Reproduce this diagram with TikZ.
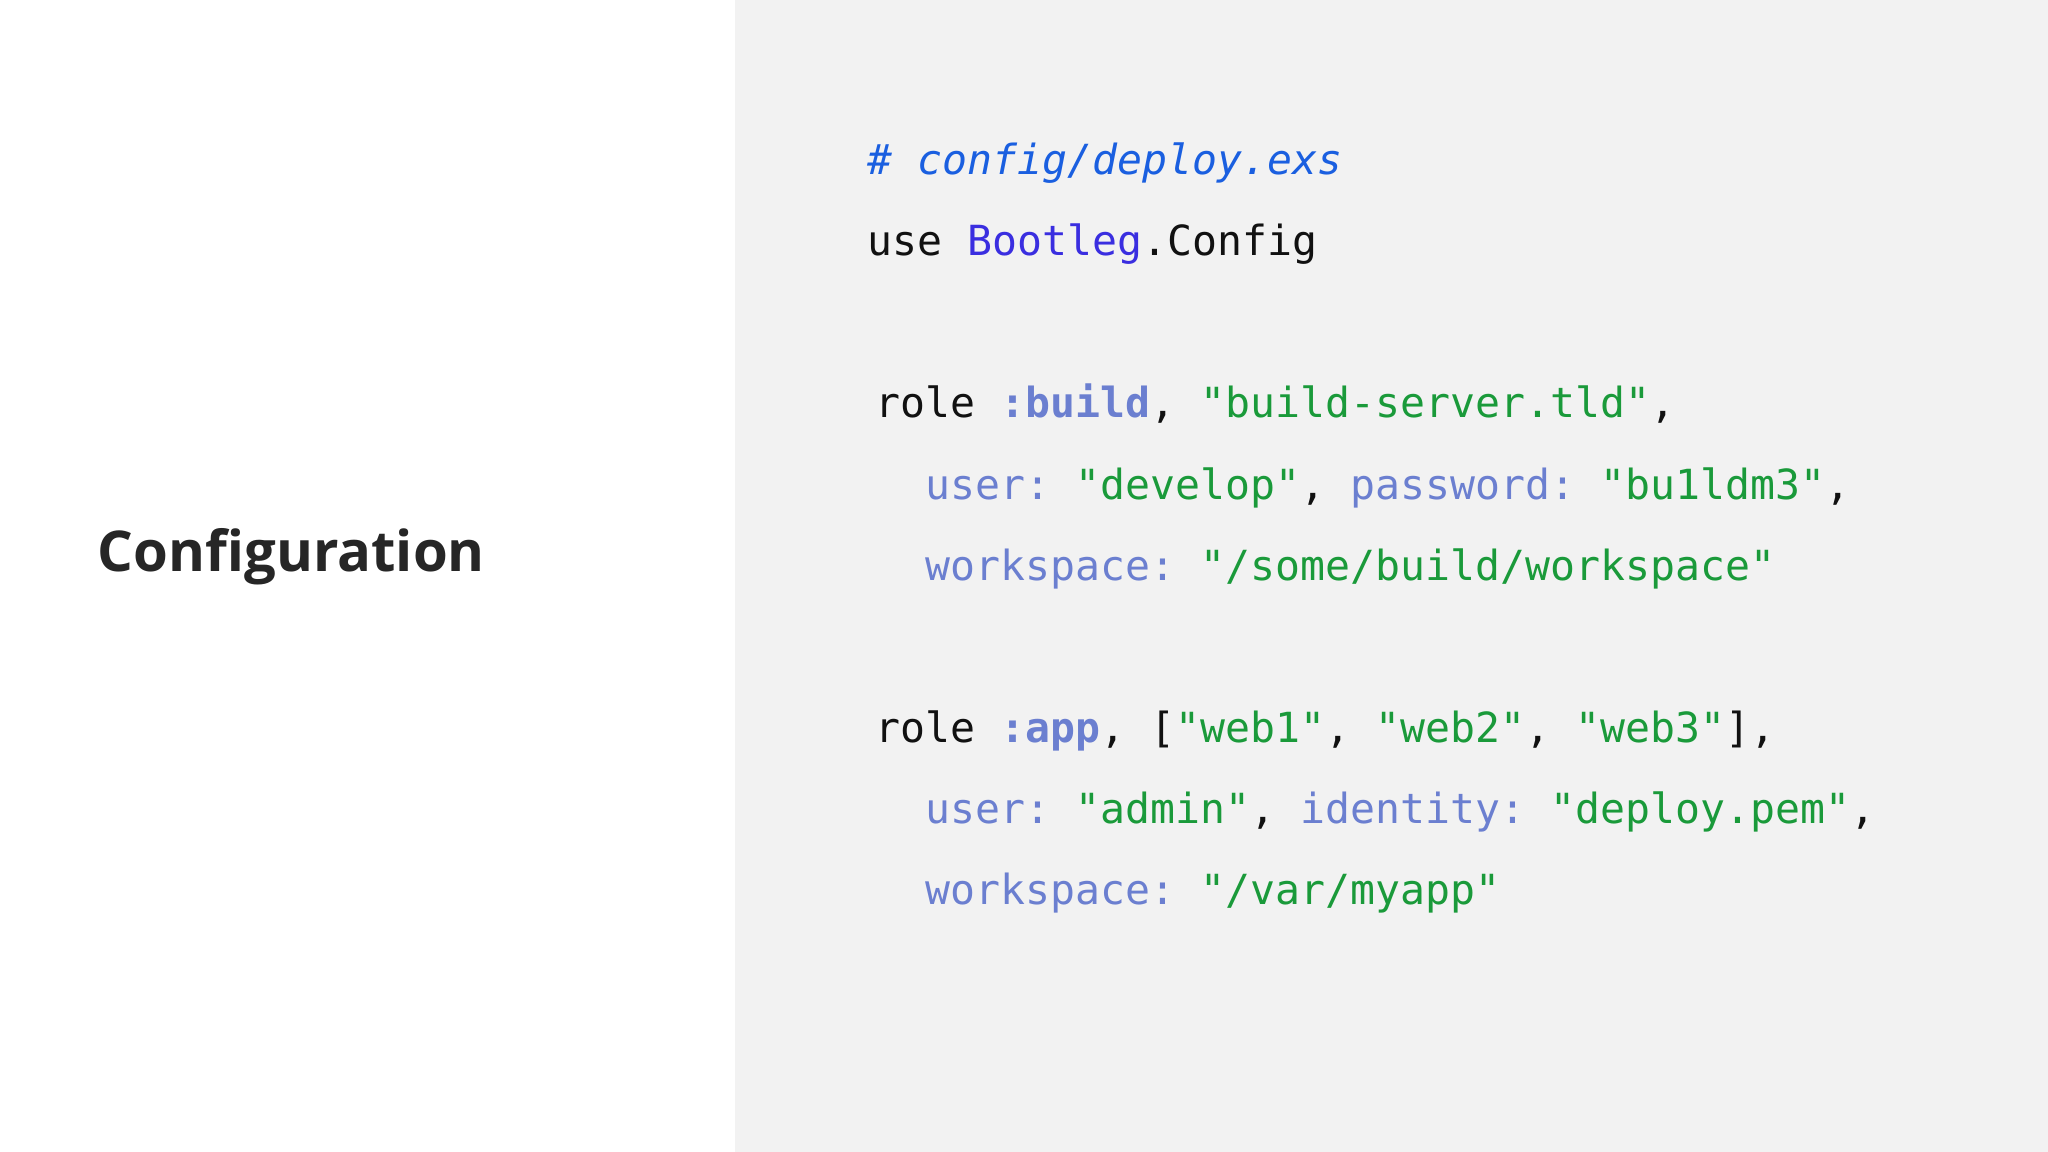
\documentclass[tikz,border=0pt]{standalone}
\usepackage{fontspec}
\setmonofont{DejaVu Sans Mono}
\newfontfamily\titlefont{Open Sans}
\definecolor{cmt}{HTML}{1A5FE0}
\definecolor{mod}{HTML}{3A2EE0}
\definecolor{kw}{HTML}{6B7FD0}
\definecolor{str}{HTML}{1A9A3A}
\definecolor{txt}{HTML}{111111}
\definecolor{panel}{HTML}{F2F2F2}
\newcommand{\Ks}[1]{\textcolor{kw}{#1}}
\newcommand{\Ss}[1]{\textcolor{str}{#1}}
\begin{document}
\begin{tikzpicture}[x=0.01cm,y=-0.01cm,
  code/.style={anchor=mid west,inner sep=0pt,font=\fontsize{11.8pt}{14pt}\ttfamily,text=txt}]
\useasboundingbox (0,0) rectangle (2048,1152);
\fill[white] (0,0) rectangle (735,1152);
\fill[panel] (735,0) rectangle (2048,1152);
\node[anchor=mid west,inner sep=0pt,font=\titlefont\bfseries\fontsize{16pt}{19pt}\selectfont,text=black!85] (title) at (97,564) {Configuration};
\node[code] (l1) at (867,167) {\textcolor{cmt}{\itshape \# config/deploy.exs}};
\node[code] (l2) at (867,248) {use \textcolor{mod}{Bootleg}.Config};
\node[code] (l3) at (875,410) {role \Ks{\bfseries :build}, \Ss{"build-server.tld"},};
\node[code] (l4) at (925,492) {\Ks{user:} \Ss{"develop"}, \Ks{password:} \Ss{"bu1ldm3"},};
\node[code] (l5) at (925,573) {\Ks{workspace:} \Ss{"/some/build/workspace"}};
\node[code] (l6) at (875,735) {role \Ks{\bfseries :app}, [\Ss{"web1"}, \Ss{"web2"}, \Ss{"web3"}],};
\node[code] (l7) at (925,816) {\Ks{user:} \Ss{"admin"}, \Ks{identity:} \Ss{"deploy.pem"},};
\node[code] (l8) at (925,897) {\Ks{workspace:} \Ss{"/var/myapp"}};
\end{tikzpicture}
\end{document}
